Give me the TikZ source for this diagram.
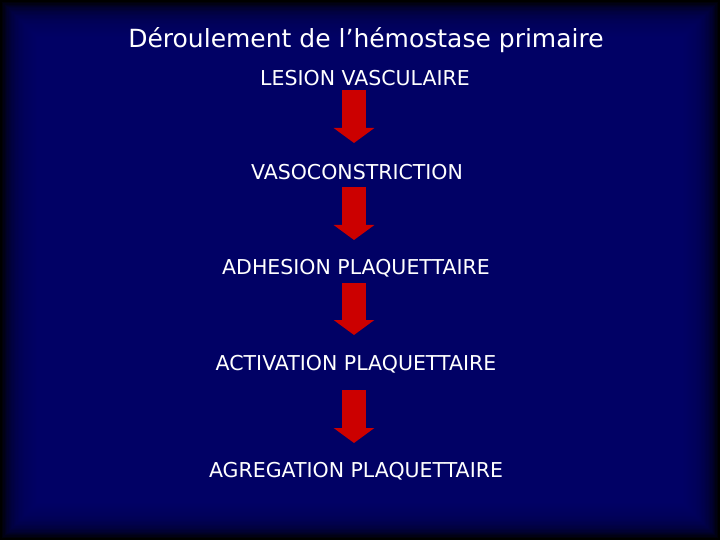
\documentclass[tikz,border=0pt]{standalone}
\usepackage{fontspec}
\setmainfont{DejaVu Sans}
\usetikzlibrary{arrows.meta}
\definecolor{bgblue}{HTML}{0A0A6E}
\tikzset{lbl/.style={text=white,font=\fontsize{20.5}{24}\selectfont,inner sep=0pt},
 redarrow/.style={draw=red!80!black,line width=24pt,-{Triangle[width=40pt,length=15pt]},shorten >=0pt}}
\begin{document}
\begin{tikzpicture}[x=1pt,y=-1pt]
\fill[black] (0,0) rectangle (720,540);
\foreach \i in {0,...,30}{
  \pgfmathsetmacro{\m}{2+\i*1.3}
  \fill[bgblue,opacity=0.1] (\m,\m) rectangle (720-\m,540-\m);
}
\node[lbl,font=\fontsize{25}{30}\selectfont] (title) at (366,40) {Déroulement de l’hémostase primaire};
\node[lbl] (t1) at (365,78) {LESION VASCULAIRE};
\node[lbl] (t2) at (357,172) {VASOCONSTRICTION};
\node[lbl] (t3) at (356,268) {ADHESION PLAQUETTAIRE};
\node[lbl] (t4) at (356,364) {ACTIVATION PLAQUETTAIRE};
\node[lbl] (t5) at (356,471) {AGREGATION PLAQUETTAIRE};
\coordinate (a1) at (354,90); \coordinate (b1) at (354,143);
\coordinate (a2) at (354,187); \coordinate (b2) at (354,240);
\coordinate (a3) at (354,283); \coordinate (b3) at (354,335);
\coordinate (a4) at (354,390); \coordinate (b4) at (354,443);
\foreach \k in {1,...,4}{\draw[redarrow] (a\k) -- (b\k);}
\end{tikzpicture}
\end{document}
